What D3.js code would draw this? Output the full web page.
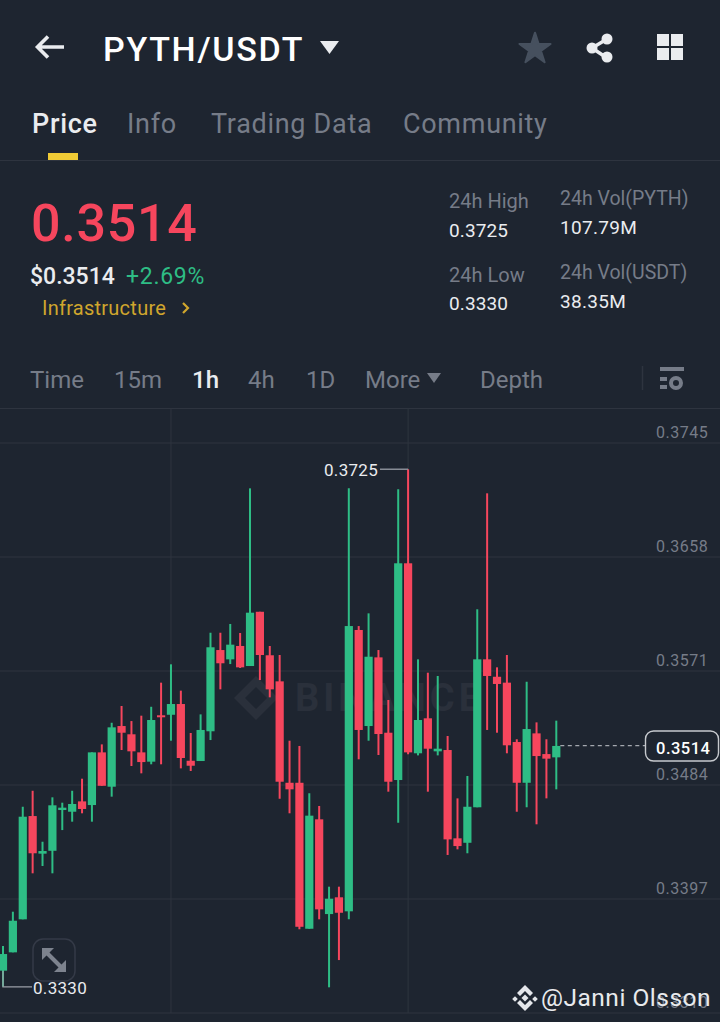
<!DOCTYPE html>
<html>
<head>
<meta charset="utf-8">
<title>PYTH/USDT</title>
<script src="https://cdn.jsdelivr.net/npm/d3@7"></script>
<style>
  html, body { margin: 0; padding: 0; background: #1e2530; }
  svg { display: block; }
  text { font-family: Roboto, sans-serif; }
</style>
</head>
<body>
<div id="chart-area"></div>
<script>
// 1h candles
var opens = [0.33423,0.33563,0.33815,0.34603,0.34316,0.34338,0.34649,0.34636,0.34715,0.34687,0.35089,0.34827,0.3529,0.35227,0.35089,0.35018,0.35372,0.35376,0.35458,0.35025,0.35023,0.3525,0.3587,0.35799,0.35901,0.35748,0.36162,0.3583,0.35631,0.34857,0.34857,0.33743,0.34578,0.33855,0.33983,0.33876,0.36023,0.3529,0.35814,0.35239,0.34878,0.36532,0.35082,0.35349,0.35097,0.35107,0.34433,0.34399,0.3467,0.35799,0.35666,0.35621,0.35168,0.34857,0.35234,0.35076,0.35051];
var highs = [0.33611,0.33873,0.34674,0.34796,0.34407,0.34746,0.34705,0.34796,0.34888,0.35089,0.3515,0.35315,0.35443,0.35328,0.35369,0.35437,0.35621,0.35761,0.3556,0.35237,0.35379,0.36002,0.36002,0.36069,0.36,0.37104,0.36162,0.35901,0.35832,0.35178,0.35138,0.34777,0.3468,0.34064,0.34064,0.37104,0.36053,0.3615,0.3587,0.35489,0.37097,0.3725,0.35799,0.35697,0.35672,0.35214,0.34738,0.34909,0.36181,0.37066,0.35738,0.35832,0.35189,0.35628,0.35318,0.35189,0.35331];
var lows = [0.333,0.33563,0.33815,0.34166,0.34222,0.34166,0.34496,0.3456,0.34624,0.3456,0.34834,0.34751,0.35107,0.34985,0.34929,0.34998,0.34998,0.35178,0.34967,0.34947,0.35023,0.35183,0.3557,0.35763,0.35733,0.35748,0.35641,0.35509,0.34735,0.34624,0.33739,0.33743,0.33815,0.33296,0.33504,0.33815,0.35036,0.35178,0.35069,0.34789,0.34552,0.35074,0.35066,0.34789,0.35066,0.34306,0.34349,0.34319,0.3467,0.3526,0.35239,0.35082,0.34636,0.3467,0.3454,0.34738,0.34807];
var closes = [0.3355,0.33804,0.34598,0.34319,0.34336,0.34685,0.34667,0.34695,0.34657,0.35089,0.34834,0.3528,0.35239,0.35097,0.35015,0.35336,0.35357,0.35458,0.35046,0.34987,0.3526,0.35891,0.35769,0.35911,0.35738,0.36155,0.35832,0.3557,0.34865,0.34807,0.33758,0.34606,0.33891,0.33972,0.33865,0.36053,0.3526,0.35819,0.35229,0.34865,0.36532,0.35089,0.35336,0.35117,0.35117,0.34425,0.34374,0.34674,0.35799,0.35672,0.35611,0.35143,0.34857,0.35267,0.35061,0.35041,0.35138];

var priceTicks = [0.3745, 0.3658, 0.3571, 0.3484, 0.3397, 0.3310];
var gridCandles = [17, 41];   // candles the two vertical grid lines sit on
var lastPrice = 0.3514;
var highPrice = 0.3725;
var lowPrice = 0.3330;

var tabs = ["Price", "Info", "Trading Data", "Community"];
var intervals = ["Time", "15m", "1h", "4h", "1D", "More", "Depth"];

var green = "#2ebd85";
var red = "#f6465d";
var bg = "#1e2530";
var gridColor = "#2e343f";
var gray = "#767c88";
var white = "#eaecef";

var svg = d3.select("#chart-area").append("svg")
    .attr("width", 720)
    .attr("height", 1022);

svg.append("rect").attr("width", 720).attr("height", 1022).attr("fill", bg);

function label(txt, x, y, size, fill, weight, spacing) {
    return svg.append("text")
        .attr("x", x)
        .attr("y", y)
        .attr("font-size", size)
        .attr("font-weight", weight || 400)
        .attr("letter-spacing", spacing || 0)
        .attr("fill", fill)
        .text(txt);
}

// ---- header ----
svg.append("path")
    .attr("d", "M64 47H38M48 36.5L37.5 47L48 57.5")
    .attr("fill", "none").attr("stroke", white).attr("stroke-width", 3.6);
label("PYTH/USDT", 103, 61, 34, "#ffffff", 500, 1.7);
svg.append("path").attr("d", "M320 41H339L329.5 54Z").attr("fill", white);

// star
var star = d3.symbol().type(d3.symbolStar).size(300);
svg.append("path").attr("d", star()).attr("transform", "translate(535,49)")
    .attr("fill", "#46505e").attr("stroke", "#46505e").attr("stroke-width", 2).attr("stroke-linejoin", "round");

// share
svg.append("path").attr("d", "M607 39L592 48L607 58")
    .attr("fill", "none").attr("stroke", white).attr("stroke-width", 3.5);
[[607, 39], [592, 48], [607, 57]].forEach(function(p) {
    svg.append("circle").attr("cx", p[0]).attr("cy", p[1]).attr("r", 5.5).attr("fill", white);
});

// grid icon
[[657, 34], [671, 34], [657, 48], [671, 48]].forEach(function(p) {
    svg.append("rect").attr("x", p[0]).attr("y", p[1]).attr("width", 12).attr("height", 12).attr("fill", white);
});

// tabs
var tabX = [32, 127, 211, 403];
tabs.forEach(function(t, i) {
    label(t, tabX[i], 133, 27, i == 0 ? white : gray, i == 0 ? 500 : 400, 0.7);
});
svg.append("rect").attr("x", 48).attr("y", 153).attr("width", 30).attr("height", 7).attr("fill", "#f0cb35");
svg.append("line").attr("x1", 0).attr("x2", 720).attr("y1", 160.5).attr("y2", 160.5).attr("stroke", gridColor);

// ---- price block ----
label("0.3514", 31, 241, 52, red, 500, 0.7);
label("$0.3514", 30, 284, 23, white, 500);
label("+2.69%", 126, 284, 23, green, 400, 0.7);
label("Infrastructure", 42, 315, 20, "#d0a62d", 400, 0.25);
svg.append("path").attr("d", "M183 303L188 308L183 313")
    .attr("fill", "none").attr("stroke", "#d0a62d").attr("stroke-width", 2.2);

label("24h High", 449, 208, 20, gray);
label("0.3725", 449, 237, 19, white, 400, 0.1);
label("24h Low", 449, 282, 20, gray);
label("0.3330", 449, 310, 19, white, 400, 0.1);
label("24h Vol(PYTH)", 560, 205, 19.5, gray);
label("107.79M", 560, 234, 19, white, 400, 0.3);
label("24h Vol(USDT)", 560, 279, 19.5, gray);
label("38.35M", 560, 308, 19, white, 400, 0.3);

// ---- interval row ----
var intervalX = [30, 114, 192, 248, 306, 365, 480];
intervals.forEach(function(t, i) {
    label(t, intervalX[i], 388, 24, t == "1h" ? white : gray, t == "1h" ? 500 : 400);
});
svg.append("path").attr("d", "M427 373H441L434 383Z").attr("fill", gray);
svg.append("line").attr("x1", 642.5).attr("x2", 642.5).attr("y1", 366).attr("y2", 390).attr("stroke", gridColor).attr("stroke-width", 1.5);
svg.append("rect").attr("x", 660).attr("y", 367).attr("width", 24).attr("height", 4).attr("fill", gray);
svg.append("rect").attr("x", 660).attr("y", 377).attr("width", 7).attr("height", 4).attr("fill", gray);
svg.append("rect").attr("x", 660).attr("y", 385).attr("width", 7).attr("height", 4).attr("fill", gray);
svg.append("circle").attr("cx", 676).attr("cy", 383).attr("r", 5).attr("fill", "none").attr("stroke", gray).attr("stroke-width", 4);
svg.append("line").attr("x1", 0).attr("x2", 720).attr("y1", 408.5).attr("y2", 408.5).attr("stroke", gridColor);

// ---- chart ----
var x = d3.scaleLinear().domain([0, opens.length - 1]).range([3, 556.3]);
var y = d3.scaleLinear().domain([0.3745, 0.3310]).range([443, 1013]);

var candles = d3.range(opens.length).map(function(i) {
    return { i: i, o: opens[i], h: highs[i], l: lows[i], c: closes[i] };
});

// horizontal + vertical grid
svg.append("g").selectAll("line.h")
    .data(priceTicks)
    .enter().append("line")
    .attr("x1", 0).attr("x2", 720)
    .attr("y1", function(d) { return y(d); })
    .attr("y2", function(d) { return y(d); })
    .attr("stroke", gridColor);

svg.append("g").selectAll("line.v")
    .data(gridCandles)
    .enter().append("line")
    .attr("x1", function(d) { return x(d); })
    .attr("x2", function(d) { return x(d); })
    .attr("y1", 408)
    .attr("y2", 1013)
    .attr("stroke", gridColor);

// axis labels sit above their grid line
var yAxis = d3.axisRight(y)
    .tickValues(priceTicks)
    .tickFormat(d3.format(".4f"))
    .tickSize(0)
    .tickPadding(0);
var axisG = svg.append("g")
    .attr("transform", "translate(656,0)")
    .call(yAxis);
axisG.select(".domain").remove();
axisG.selectAll("text")
    .attr("font-family", "Roboto, sans-serif")
    .attr("font-size", 16)
    .attr("letter-spacing", 0.5)
    .attr("fill", gray)
    .attr("dy", -5.5);

// faint BINANCE mark behind the candles
var wm = svg.append("g").attr("fill", "#2a303b");
wm.append("path").attr("d", "M256 676L278 698L256 720L234 698ZM256 687L245 698L256 709L267 698Z").attr("fill-rule", "evenodd");
wm.append("text").attr("x", 295).attr("y", 711).attr("font-size", 38).attr("font-weight", 700)
    .attr("letter-spacing", 4).text("BINANCE");

// candles
svg.append("g").selectAll("line.wick")
    .data(candles)
    .enter().append("line")
    .attr("x1", function(d) { return x(d.i); })
    .attr("x2", function(d) { return x(d.i); })
    .attr("y1", function(d) { return y(d.h); })
    .attr("y2", function(d) { return y(d.l); })
    .attr("stroke-width", 2)
    .attr("stroke", function(d) { return d.c >= d.o ? green : red; });

svg.append("g").selectAll("rect.body")
    .data(candles)
    .enter().append("rect")
    .attr("x", function(d) { return x(d.i) - 4.1; })
    .attr("width", 8.2)
    .attr("y", function(d) { return y(Math.max(d.o, d.c)); })
    .attr("height", function(d) { return Math.max(2, Math.abs(y(d.o) - y(d.c))); })
    .attr("fill", function(d) { return d.c >= d.o ? green : red; });

// high / low markers
svg.append("line")
    .attr("x1", 380).attr("x2", x(41))
    .attr("y1", y(highPrice)).attr("y2", y(highPrice))
    .attr("stroke", "#9a9ea6").attr("stroke-width", 1.3);
label(d3.format(".4f")(highPrice), 324, y(highPrice) + 7, 17, white, 400, 0.3);

svg.append("path")
    .attr("d", "M" + x(0) + " " + y(opens[0]) + "V" + y(lowPrice) + "H32")
    .attr("fill", "none").attr("stroke", "#9a9ea6").attr("stroke-width", 1.3);
label(d3.format(".4f")(lowPrice), 33, y(lowPrice) + 7, 17, white, 400, 0.3);

// expand button
svg.append("rect").attr("x", 33).attr("y", 939).attr("width", 42).attr("height", 42).attr("rx", 10)
    .attr("fill", "none").attr("stroke", "#343a47").attr("stroke-width", 1.5);
svg.append("path").attr("d", "M42 948H54L42 960Z").attr("fill", "#7d838e");
svg.append("path").attr("d", "M66 972H54L66 960Z").attr("fill", "#7d838e");
svg.append("line").attr("x1", 46).attr("y1", 952).attr("x2", 62).attr("y2", 968)
    .attr("stroke", "#7d838e").attr("stroke-width", 4);

// last price
svg.append("line")
    .attr("x1", x(56) + 4).attr("x2", 645)
    .attr("y1", y(lastPrice)).attr("y2", y(lastPrice))
    .attr("stroke", "#a4a8ae").attr("stroke-width", 1.2).attr("stroke-dasharray", "4 3.5");
svg.append("rect").attr("x", 645.5).attr("y", 731).attr("width", 73).attr("height", 30).attr("rx", 8)
    .attr("fill", bg).attr("stroke", "#c6c9ce").attr("stroke-width", 1.4);
label(d3.format(".4f")(lastPrice), 656, 754, 16.5, "#ffffff", 500, 0.5);

// ---- @ watermark, bottom right ----
var mark = svg.append("g").attr("fill", "#e4e6ea").attr("transform", "translate(525,998)");
mark.append("path").attr("d", "M0 -13L8 -5L5 -2L0 -7L-5 -2L-8 -5Z");
mark.append("path").attr("d", "M0 13L8 5L5 2L0 7L-5 2L-8 5Z");
mark.append("rect").attr("x", -2.5).attr("y", -2.5).attr("width", 5).attr("height", 5).attr("transform", "rotate(45)");
mark.append("rect").attr("x", -11).attr("y", -2).attr("width", 4).attr("height", 4).attr("transform", "translate(-1,1) rotate(45,-9,0)");
mark.append("rect").attr("x", 7).attr("y", -2).attr("width", 4).attr("height", 4).attr("transform", "translate(1,1) rotate(45,9,0)");
label("@Janni Olsson", 541, 1006, 24.5, "#e8eaed", 400, 0.5).attr("font-family", "Noto Sans, sans-serif");
</script>
</body>
</html>
